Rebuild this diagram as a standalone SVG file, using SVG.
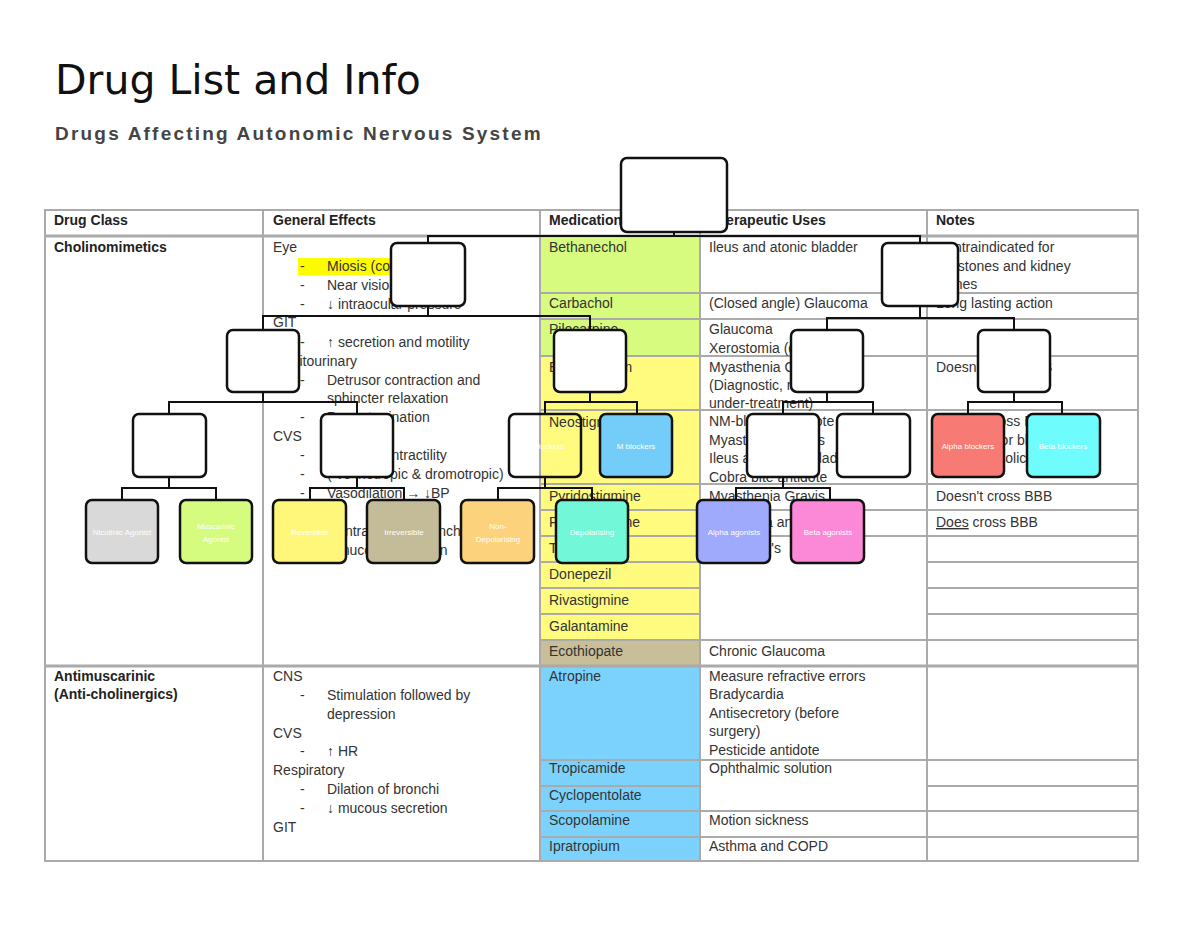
<svg xmlns="http://www.w3.org/2000/svg" width="1200" height="927" viewBox="0 0 1200 927">
<style>
.t{font-family:"Liberation Sans",Arial,sans-serif;font-size:14px;fill:#333}
.b{font-weight:bold;fill:#222}
.g{stroke:#aaa;stroke-width:2;fill:none}
.n{stroke:#111;stroke-width:2.5}
.w{fill:#fff}
.nt{font-family:"Liberation Sans",Arial,sans-serif;font-size:8px;fill:#fff;text-anchor:middle}
.c{stroke:#111;stroke-width:2;fill:none}
</style>
<rect width="1200" height="927" fill="#fff"/>
<text x="55" y="94" font-family="DejaVu Sans,sans-serif" font-size="41" fill="#111">Drug List and Info</text>
<text x="55" y="140" font-family="Liberation Sans,Arial,sans-serif" font-size="19" font-weight="bold" fill="#444" letter-spacing="2.2">Drugs Affecting Autonomic Nervous System</text>
<!-- cell fills -->
<g>
<rect x="541" y="238" width="159" height="118" fill="#d6fb7e"/>
<rect x="541" y="357" width="159" height="283" fill="#fefb7e"/>
<rect x="541" y="641" width="159" height="24" fill="#c8be97"/>
<rect x="541" y="667" width="159" height="194" fill="#7bd3fd"/>
<rect x="298" y="258" width="168" height="17" fill="#fffb00"/>
</g>
<!-- grid -->
<g class="g">
<rect x="45" y="210" width="1093" height="651"/>
<line x1="263" y1="210" x2="263" y2="861"/>
<line x1="540" y1="210" x2="540" y2="861"/>
<line x1="700" y1="210" x2="700" y2="861"/>
<line x1="927" y1="210" x2="927" y2="861"/>
<line x1="45" y1="236" x2="1138" y2="236" stroke-width="3"/>
<line x1="45" y1="666" x2="1138" y2="666" stroke-width="3"/>
<path d="M540 293H1138M540 319H1138M540 356H1138M540 410H1138M540 484H1138M540 510H1138M540 536H1138"/>
<path d="M540 562H700M540 588H700M540 614H700M540 640H1138M927 562H1138M927 588H1138M927 614H1138"/>
<path d="M540 760H1138M540 786H700M927 786H1138M540 811H1138M540 837H1138"/>
</g>
<!-- texts -->
<g class="t">
<text class="t b" x="54" y="225">Drug Class</text>
<text class="t b" x="273" y="225">General Effects</text>
<text class="t b" x="549" y="225">Medication Names</text>
<text class="t b" x="709" y="225">Therapeutic Uses</text>
<text class="t b" x="936" y="225">Notes</text>
<text class="t b" x="54" y="252">Cholinomimetics</text>
<text x="273" y="252">Eye</text>
<text x="300" y="271">-</text><text x="327" y="271">Miosis (constriction)</text>
<text x="300" y="290">-</text><text x="327" y="290">Near vision</text>
<text x="300" y="309">-</text><text x="327" y="309">↓ intraocular pressure</text>
<text x="273" y="327">GIT</text>
<text x="300" y="347">-</text><text x="327" y="347">↑ secretion and motility</text>
<text x="273" y="366">Genitourinary</text>
<text x="300" y="385">-</text><text x="327" y="385">Detrusor contraction and</text>
<text x="327" y="403">sphincter relaxation</text>
<text x="300" y="422">-</text><text x="327" y="422">Prompt urination</text>
<text x="273" y="441">CVS</text>
<text x="300" y="460">-</text><text x="327" y="460">↓ HR, ↓ contractility</text>
<text x="300" y="479">-</text><text x="327" y="479">(-ve inotropic &amp; dromotropic)</text>
<text x="300" y="498">-</text><text x="327" y="498">Vasodilation → ↓BP</text>
<text x="273" y="517">Respiratory</text>
<text x="300" y="536">-</text><text x="327" y="536">Contraction of bronchi</text>
<text x="300" y="555">-</text><text x="327" y="555">↑ mucous secretion</text>
<text x="549" y="252">Bethanechol</text>
<text x="549" y="308">Carbachol</text>
<text x="549" y="334">Pilocarpine</text>
<text x="549" y="372">Edrophonium</text>
<text x="549" y="427">Neostigmine</text>
<text x="549" y="501">Pyridostigmine</text>
<text x="549" y="527">Physostigmine</text>
<text x="549" y="553">Tacrine</text>
<text x="549" y="579">Donepezil</text>
<text x="549" y="605">Rivastigmine</text>
<text x="549" y="631">Galantamine</text>
<text x="549" y="656">Ecothiopate</text>
<text x="709" y="252">Ileus and atonic bladder</text>
<text x="709" y="308">(Closed angle) Glaucoma</text>
<text x="709" y="334">Glaucoma</text>
<text x="709" y="353">Xerostomia (dry mouth)</text>
<text x="709" y="372">Myasthenia Gravis</text>
<text x="709" y="390">(Diagnostic, reversal of</text>
<text x="709" y="408">under-treatment)</text>
<text x="709" y="426">NM-blocker antidote</text>
<text x="709" y="445">Myasthenia Gravis</text>
<text x="709" y="463">Ileus and atonic bladder</text>
<text x="709" y="482">Cobra bite antidote</text>
<text x="709" y="501">Myasthenia Gravis</text>
<text x="709" y="527">Glaucoma and</text>
<text x="709" y="553">Alzheimer's</text>
<text x="709" y="656">Chronic Glaucoma</text>
<text x="936" y="252">Contraindicated for</text>
<text x="936" y="271">gallstones and kidney</text>
<text x="936" y="289">stones</text>
<text x="936" y="308">Long lasting action</text>
<text x="936" y="372">Doesn't cross BBB</text>
<text x="936" y="426">Doesn't cross BBB</text>
<text x="936" y="445">Indicated for bladder</text>
<text x="936" y="463">and renal colic</text>
<text x="936" y="501">Doesn't cross BBB</text>
<text x="936" y="527"><tspan text-decoration="underline">Does</tspan> cross BBB</text>
<text class="t b" x="54" y="681">Antimuscarinic</text>
<text class="t b" x="54" y="699">(Anti-cholinergics)</text>
<text x="273" y="681">CNS</text>
<text x="300" y="700">-</text><text x="327" y="700">Stimulation followed by</text>
<text x="327" y="719">depression</text>
<text x="273" y="738">CVS</text>
<text x="300" y="756">-</text><text x="327" y="756">↑ HR</text>
<text x="273" y="775">Respiratory</text>
<text x="300" y="794">-</text><text x="327" y="794">Dilation of bronchi</text>
<text x="300" y="813">-</text><text x="327" y="813">↓ mucous secretion</text>
<text x="273" y="832">GIT</text>
<text x="549" y="681">Atropine</text>
<text x="549" y="773">Tropicamide</text>
<text x="549" y="800">Cyclopentolate</text>
<text x="549" y="825">Scopolamine</text>
<text x="549" y="851">Ipratropium</text>
<text x="709" y="681">Measure refractive errors</text>
<text x="709" y="699">Bradycardia</text>
<text x="709" y="718">Antisecretory (before</text>
<text x="709" y="736">surgery)</text>
<text x="709" y="755">Pesticide antidote</text>
<text x="709" y="773">Ophthalmic solution</text>
<text x="709" y="825">Motion sickness</text>
<text x="709" y="851">Asthma and COPD</text>
</g>
<!-- connectors -->
<g id="connectors" class="c">
<path d="M674 232V236M428 243V236H920V243"/>
<path d="M428 306V316M263 330V316H590V330"/>
<path d="M920 306V318M827 330V318H1014V330"/>
<path d="M263 392V402M169 414V402H357V414"/>
<path d="M590 392V402M545 414V402H637V414"/>
<path d="M827 392V402M783 414V402H873V414"/>
<path d="M1014 392V402M968 414V402H1062V414"/>
<path d="M169 477V488M122 500V488H216V500"/>
<path d="M357 477V488M310 500V488H404V500"/>
<path d="M545 477V488M498 500V488H592V500"/>
<path d="M783 477V488M736 500V488H830V500"/>
</g>
<!-- nodes -->
<g id="root"><rect class="n w" x="621" y="158" width="106" height="74" rx="6"/></g>
<g id="n-l1a"><rect class="n w" x="391" y="243" width="74" height="63" rx="6"/></g>
<g id="n-l1b"><rect class="n w" x="882" y="243" width="76" height="63" rx="6"/></g>
<g id="n-l2a"><rect class="n w" x="227" y="330" width="72" height="62" rx="6"/></g>
<g id="n-l2b"><rect class="n w" x="554" y="330" width="72" height="62" rx="6"/></g>
<g id="n-l2c"><rect class="n w" x="791" y="330" width="72" height="62" rx="6"/></g>
<g id="n-l2d"><rect class="n w" x="978" y="330" width="72" height="62" rx="6"/></g>
<g id="n-l3a"><rect class="n w" x="133" y="414" width="73" height="63" rx="6"/></g>
<g id="n-l3b"><rect class="n w" x="321" y="414" width="72" height="63" rx="6"/></g>
<g id="n-nblockers"><rect class="n" fill="none" x="509" y="414" width="72" height="63" rx="6"/><text class="nt" x="545" y="449">N blockers</text></g>
<g id="n-mblockers"><rect class="n" fill="#74cdf8" x="600" y="414" width="72" height="63" rx="6"/><text class="nt" x="636" y="449">M blockers</text></g>
<g id="n-l3e"><rect class="n w" x="747" y="414" width="72" height="63" rx="6"/></g>
<g id="n-l3f"><rect class="n w" x="837" y="414" width="73" height="63" rx="6"/></g>
<g id="n-alphablk"><rect class="n" fill="#f87a74" x="932" y="414" width="72" height="63" rx="6"/><text class="nt" x="968" y="449">Alpha blockers</text></g>
<g id="n-betablk"><rect class="n" fill="#6ffcfc" x="1027" y="414" width="73" height="63" rx="6"/><text class="nt" x="1063" y="449">Beta blockers</text></g>
<g id="n-nic"><rect class="n" fill="#d9d9d9" x="86" y="500" width="72" height="63" rx="6"/><text class="nt" x="122" y="535">Nicotinic Agonist</text></g>
<g id="n-mus"><rect class="n" fill="#d5fb7f" x="180" y="500" width="72" height="63" rx="6"/><text class="nt" x="216" y="529">Muscarinic</text><text class="nt" x="216" y="542">Agonist</text></g>
<g id="n-rev"><rect class="n" fill="#fff77a" x="273" y="500" width="73" height="63" rx="6"/><text class="nt" x="310" y="535">Reversible</text></g>
<g id="n-irr"><rect class="n" fill="#c4bc98" x="367" y="500" width="73" height="63" rx="6"/><text class="nt" x="404" y="535">Irreversible</text></g>
<g id="n-nondep"><rect class="n" fill="#fcd27d" x="461" y="500" width="73" height="63" rx="6"/><text class="nt" x="498" y="529">Non-</text><text class="nt" x="498" y="542">Depolarising</text></g>
<g id="n-dep"><rect class="n" fill="#72f8d8" x="556" y="500" width="72" height="63" rx="6"/><text class="nt" x="592" y="535">Depolarising</text></g>
<g id="n-alphaag"><rect class="n" fill="#a0aafc" x="697" y="500" width="73" height="63" rx="6"/><text class="nt" x="734" y="535">Alpha agonists</text></g>
<g id="n-betaag"><rect class="n" fill="#fc88d8" x="791" y="500" width="73" height="63" rx="6"/><text class="nt" x="828" y="535">Beta agonists</text></g>
</svg>
